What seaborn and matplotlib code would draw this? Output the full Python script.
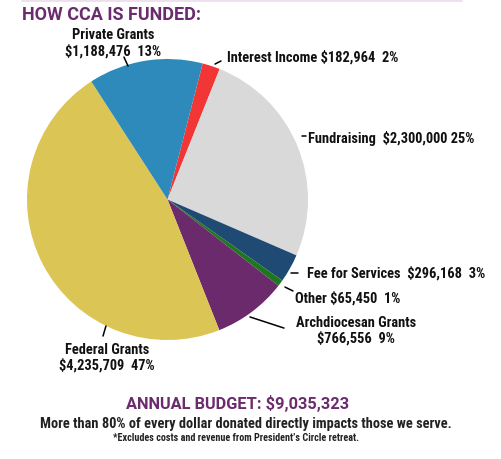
import matplotlib
matplotlib.use('Agg')
import matplotlib.pyplot as plt
import seaborn as sns

# funding sources, in clockwise order from the top
sources = ["Interest Income", "Fundraising", "Fee for Services", "Other",
           "Archdiocesan Grants", "Federal Grants", "Private Grants"]
amounts = [182964, 2300000, 296168, 65450, 766556, 4235709, 1188476]
pct_labels = ["2%", "25%", "3%", "1%", "9%", "47%", "13%"]
colors = ["#F23636", "#D9D9D9", "#1F4A73", "#1E761E", "#6B2A6C", "#DAC555", "#2E8ABA"]

title = "HOW CCA IS FUNDED:"
budget = "ANNUAL BUDGET: $9,035,323"
tagline = "More than 80% of every dollar donated directly impacts those we serve."
footnote = "*Excludes costs and revenue from President\u2019s Circle retreat."

sns.set_theme(style="white")
plt.rcParams['font.family'] = ['Roboto Condensed', 'DejaVu Sans']
PURPLE = "#6B2C6E"

fig = plt.figure(figsize=(5.02, 4.60), dpi=100)
W, H = 502, 460

# pie centre (167.5, 200.5) px, radius 140.5 px
cx, cy, r = 167.5, 200.5, 140.5
ax = fig.add_axes([(cx - r) / W, (H - cy - r) / H, 2 * r / W, 2 * r / H])
ax.pie(amounts, colors=colors, startangle=75.5, counterclock=False,
       radius=1, wedgeprops=dict(linewidth=0))
ax.set_xlim(-1, 1)
ax.set_ylim(-1, 1)
ax.set_aspect('equal')
ax.axis('off')

def fmt(v):
    return "${:,}".format(v)

# leader lines in pie-radius units
leaders = {
    "Private Grants": (-0.281, 0.950, -0.310, 1.014),
    "Interest Income": (0.338, 0.964, 0.381, 0.986),
    "Fundraising": (0.957, 0.452, 0.986, 0.452),
    "Fee for Services": (0.879, -0.523, 0.929, -0.523),
    "Other": (0.836, -0.623, 0.893, -0.651),
    "Archdiocesan Grants": (0.587, -0.836, 0.829, -0.915),
    "Federal Grants": (-0.438, -0.900, -0.459, -0.972),
}
for name, (x0, y0, x1, y1) in leaders.items():
    ax.plot([x0, x1], [y0, y1], color="black", lw=1.1, clip_on=False)

info = {s: (fmt(a), p) for s, a, p in zip(sources, amounts, pct_labels)}

def ftext(x, y, s, **kw):
    kw.setdefault('fontsize', 10.4)
    kw.setdefault('fontweight', 'bold')
    kw.setdefault('color', '#111111')
    kw.setdefault('va', 'center')
    fig.text(x / W, 1 - y / H, s, **kw)

a, p = info["Private Grants"]
ftext(113, 35, "Private Grants", ha='center')
ftext(113, 51, f"{a}  {p}", ha='center')
a, p = info["Interest Income"]
ftext(227, 57, f"Interest Income {a}  {p}", ha='left')
a, p = info["Fundraising"]
ftext(308, 138, f"Fundraising  {a} {p}", ha='left')
a, p = info["Fee for Services"]
ftext(307, 273, f"Fee for Services  {a}  {p}", ha='left')
a, p = info["Other"]
ftext(295, 298, f"Other {a}  {p}", ha='left')
a, p = info["Archdiocesan Grants"]
ftext(356, 323, "Archdiocesan Grants", ha='center')
ftext(356, 338, f"{a}  {p}", ha='center')
a, p = info["Federal Grants"]
ftext(107, 350, "Federal Grants", ha='center')
ftext(107, 365, f"{a}  {p}", ha='center')

ftext(22, 15, title, ha='left', fontsize=13, color=PURPLE,
      family=['Roboto', 'DejaVu Sans'])
ftext(238, 404, budget, ha='center', fontsize=11.8, color=PURPLE,
      family=['Roboto', 'DejaVu Sans'])
ftext(246, 424, tagline, ha='center', fontsize=10.4, color='#222222')
ftext(236, 438, footnote, ha='center', fontsize=7.3, color='#222222')

# thin pink rule at the very top
fig.add_artist(plt.Line2D([22 / W, 461 / W], [1 - 0.8 / H, 1 - 0.8 / H],
                          color="#EEDFEC", lw=2))

fig.savefig("out.png", dpi=100)
